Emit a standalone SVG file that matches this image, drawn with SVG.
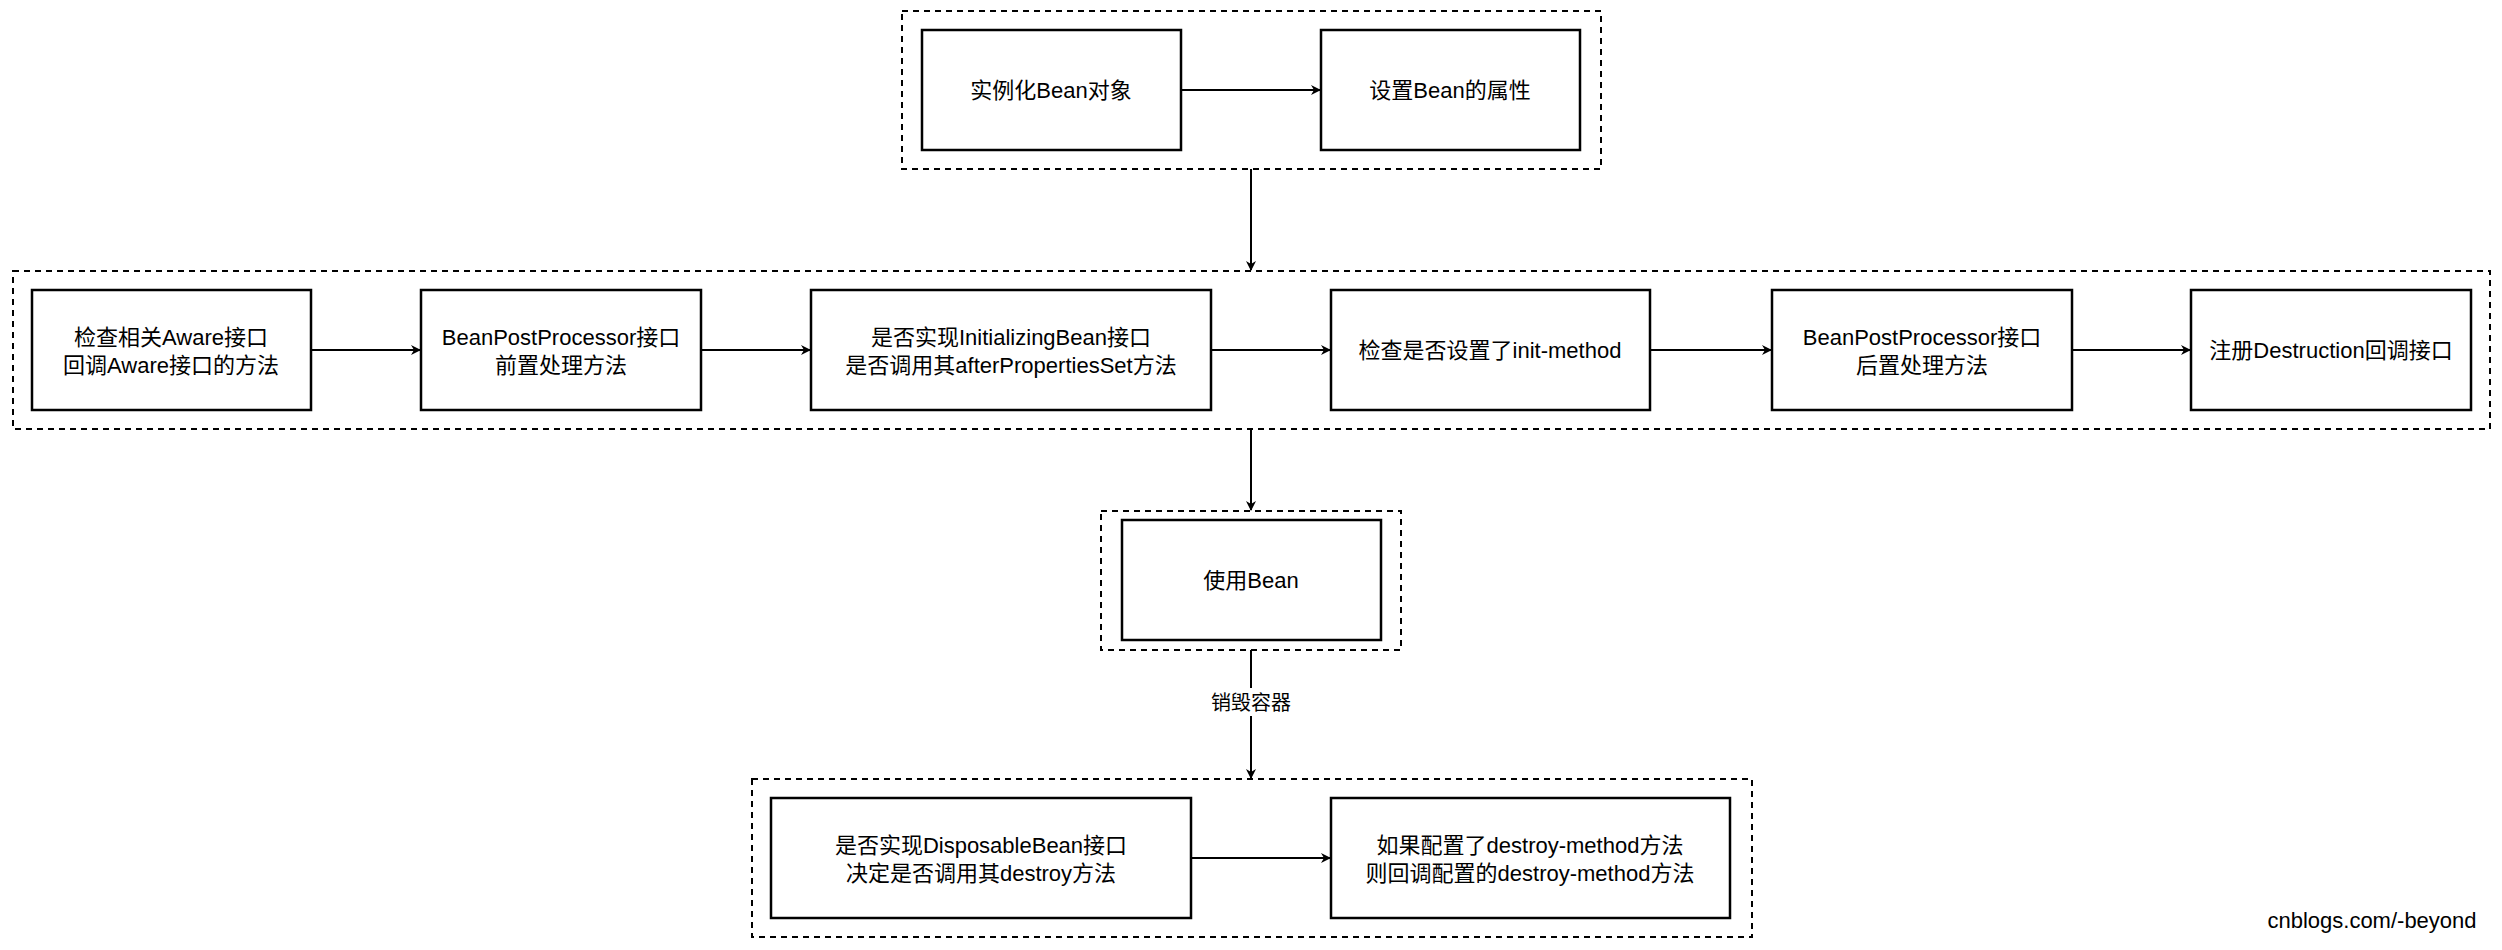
<svg xmlns="http://www.w3.org/2000/svg" width="2502" height="950" viewBox="0 0 2502 950">
<defs>
<marker id="ar" viewBox="0 0 10 10" refX="9" refY="5" markerWidth="10" markerHeight="10" markerUnits="userSpaceOnUse" orient="auto"><path d="M0,0 L10,5 L0,10 L3,5 Z" fill="#000"/></marker>
<style>
.grp{fill:none;stroke:#000;stroke-width:2;stroke-dasharray:6 5}
.box{fill:#fff;stroke:#000;stroke-width:2.5}
text{font-family:"Liberation Sans","Noto Sans CJK SC",sans-serif;font-size:22px;fill:#000;text-anchor:middle}
.c{fill:none;stroke:#000;stroke-width:2;marker-end:url(#ar)}
</style>
</defs>
<rect width="2502" height="950" fill="#fff"/>
<rect class="grp" x="902" y="11" width="699" height="158"/>
<rect class="grp" x="13" y="271" width="2477" height="158"/>
<rect class="grp" x="1101" y="511" width="300" height="139"/>
<rect class="grp" x="752" y="779" width="1000" height="158"/>
<g id="connectors">
<line class="c" x1="1181" y1="90" x2="1320" y2="90"/>
<line class="c" x1="1251" y1="169" x2="1251" y2="270"/>
<line class="c" x1="311" y1="350" x2="420" y2="350"/>
<line class="c" x1="701" y1="350" x2="810" y2="350"/>
<line class="c" x1="1211" y1="350" x2="1330" y2="350"/>
<line class="c" x1="1650" y1="350" x2="1771" y2="350"/>
<line class="c" x1="2072" y1="350" x2="2190" y2="350"/>
<line class="c" x1="1251" y1="429" x2="1251" y2="510"/>
<line class="c" x1="1251" y1="650" x2="1251" y2="778"/>
<rect x="1206" y="688" width="90" height="28" fill="#fff"/>
<text x="1251" y="710" style="font-size:20px">销毁容器</text>
<line class="c" x1="1191" y1="858" x2="1330" y2="858"/>
</g>
<g id="n1"><rect class="box" x="922" y="30" width="259" height="120"/><text x="1051" y="98">实例化Bean对象</text></g>
<g id="n2"><rect class="box" x="1321" y="30" width="259" height="120"/><text x="1450" y="98">设置Bean的属性</text></g>
<g id="n3"><rect class="box" x="32" y="290" width="279" height="120"/><text x="171" y="345">检查相关Aware接口</text><text x="171" y="373">回调Aware接口的方法</text></g>
<g id="n4"><rect class="box" x="421" y="290" width="280" height="120"/><text x="561" y="345">BeanPostProcessor接口</text><text x="561" y="373">前置处理方法</text></g>
<g id="n5"><rect class="box" x="811" y="290" width="400" height="120"/><text x="1011" y="345">是否实现InitializingBean接口</text><text x="1011" y="373">是否调用其afterPropertiesSet方法</text></g>
<g id="n6"><rect class="box" x="1331" y="290" width="319" height="120"/><text x="1490" y="358">检查是否设置了init-method</text></g>
<g id="n7"><rect class="box" x="1772" y="290" width="300" height="120"/><text x="1922" y="345">BeanPostProcessor接口</text><text x="1922" y="373">后置处理方法</text></g>
<g id="n8"><rect class="box" x="2191" y="290" width="280" height="120"/><text x="2331" y="358">注册Destruction回调接口</text></g>
<g id="n9"><rect class="box" x="1122" y="520" width="259" height="120"/><text x="1251" y="588">使用Bean</text></g>
<g id="n10"><rect class="box" x="771" y="798" width="420" height="120"/><text x="981" y="853">是否实现DisposableBean接口</text><text x="981" y="881">决定是否调用其destroy方法</text></g>
<g id="n11"><rect class="box" x="1331" y="798" width="399" height="120"/><text x="1530" y="853">如果配置了destroy-method方法</text><text x="1530" y="881">则回调配置的destroy-method方法</text></g>
<text x="2372" y="928">cnblogs.com/-beyond</text>
</svg>
